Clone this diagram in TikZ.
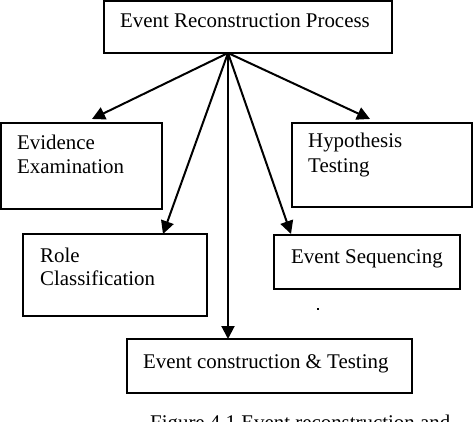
\documentclass[tikz,border=0pt]{standalone}
\usepackage{fontspec}
\setmainfont{Liberation Serif}
\usetikzlibrary{arrows.meta}
\begin{document}
\begin{tikzpicture}[x=1pt,y=-1pt,
  box/.style={draw, line width=2.2pt, inner sep=0pt, outer sep=0pt},
  lbl/.style={anchor=base west, inner sep=0pt, font=\fontsize{20.9}{25}\selectfont},
  arr/.style={line width=2pt, -{Triangle[length=13pt,width=13pt]}}]
\useasboundingbox (0,0) rectangle (474,422);
\clip (0,0) rectangle (474,422);
\fill[white] (0,0) rectangle (474,422);
% boxes
\node[box, minimum width=288pt, minimum height=52pt] (top) at (248,27) {};
\node[box, minimum width=161pt, minimum height=86pt] (ev) at (81.5,166) {};
\node[box, minimum width=180pt, minimum height=84pt] (hy) at (382,165) {};
\node[box, minimum width=184pt, minimum height=82pt] (ro) at (115,275) {};
\node[box, minimum width=186pt, minimum height=54pt] (es) at (367,262) {};
\node[box, minimum width=285pt, minimum height=54pt] (ec) at (269.5,366) {};
% labels
\node[lbl] (tt) at (120,28) {Event Reconstruction Process};
\node[lbl] (ev1) at (17,150) {Evidence};
\node[lbl] (ev2) at (17,174) {Examination};
\node[lbl] (hy1) at (308,148) {Hypothesis};
\node[lbl] (hy2) at (308,173) {Testing};
\node[lbl] (ro1) at (40,262) {Role};
\node[lbl] (ro2) at (40,285) {Classification};
\node[lbl] (es1) at (291,263) {Event Sequencing};
\node[lbl] (ec1) at (143,368) {Event construction \& Testing};
\node[lbl] (cap) at (150,429) {Figure 4.1 Event reconstruction and};
% stray dot
\node[fill=black, minimum size=2.5pt, inner sep=0pt] (dot) at (318,309) {};
% connectors
\coordinate (hub) at (228,53);
\coordinate (tev) at (92,119);
\coordinate (thy) at (370,119);
\coordinate (tro) at (163,234);
\coordinate (tes) at (291,234);
\draw[arr] (hub) -- (tev);
\draw[arr] (hub) -- (thy);
\draw[arr] (hub) -- (tro);
\draw[arr] (hub) -- (tes);
\draw[arr] (hub) -- (hub |- ec.north);
\end{tikzpicture}
\end{document}
